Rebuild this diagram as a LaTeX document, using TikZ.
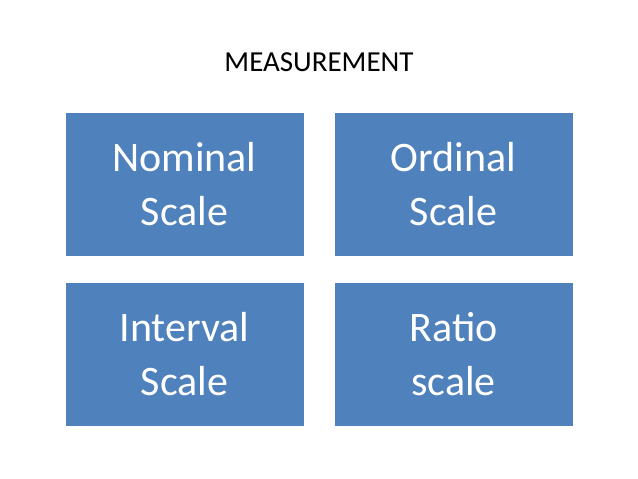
\documentclass[tikz,border=0pt]{standalone}
\usepackage{fontspec}
\setmainfont{Carlito}
\definecolor{boxblue}{HTML}{4F81BD}
\definecolor{boxedge}{HTML}{3A6596}
\begin{document}
\begin{tikzpicture}[x=1pt,y=1pt,
  scalebox/.style={fill=boxblue,draw=white,line width=1pt,minimum width=239pt,minimum height=144pt,inner sep=0pt,text=white,align=center,font=\fontsize{42}{54}\selectfont}]
\useasboundingbox (0,0) rectangle (638,479);
\fill[white] (0,0) rectangle (638,479);
\node[font=\fontsize{29}{34}\selectfont] (title) at (319,417) {MEASUREMENT};
\node[scalebox] (nom) at (184.5,294.5) {Nominal\\Scale};
\node[scalebox] (ord) at (453.5,294.5) {Ordinal\\Scale};
\node[scalebox] (int) at (184.5,124.5) {Interval\\Scale};
\node[scalebox] (rat) at (453.5,124.5) {Ratio\\scale};
\end{tikzpicture}
\end{document}
